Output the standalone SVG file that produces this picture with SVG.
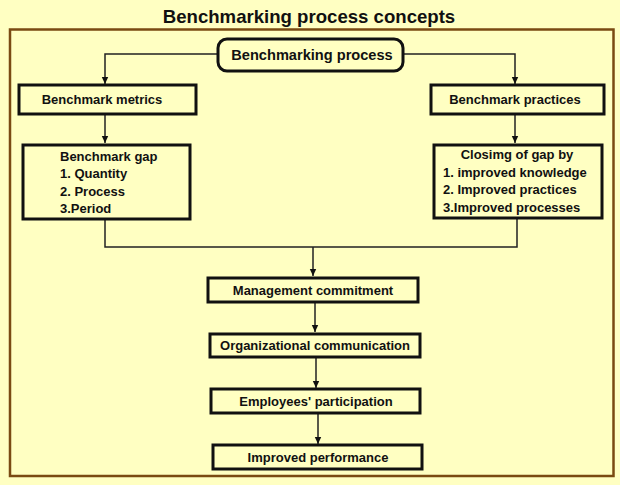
<svg xmlns="http://www.w3.org/2000/svg" width="620" height="485" viewBox="0 0 620 485">
<defs>
<marker id="ah" markerWidth="8" markerHeight="8" refX="7" refY="4" orient="auto" markerUnits="userSpaceOnUse">
<path d="M0,0.8 L7,4 L0,7.2 Z" fill="#111"/>
</marker>
<style>
.box{fill:none;stroke:#111;stroke-width:3}
.t{font-family:"Liberation Sans",Arial,sans-serif;font-weight:bold;font-size:13px;fill:#111}
.c{text-anchor:middle}
.con{fill:none;stroke:#222;stroke-width:1.5}
.arr{fill:none;stroke:#222;stroke-width:1.5;marker-end:url(#ah)}
</style>
</defs>
<rect x="0" y="0" width="620" height="485" fill="#FFFFC2"/>
<text x="309" y="23" class="t c" style="font-size:18.6px">Benchmarking process concepts</text>
<rect x="10" y="29.5" width="603.5" height="446.5" fill="none" stroke="#7A4A12" stroke-width="2.5"/>
<g id="connectors">
<path class="arr" d="M218,54 H105 V84"/>
<path class="arr" d="M403,54 H515 V84"/>
<path class="arr" d="M105,115 V143"/>
<path class="arr" d="M515,115 V143"/>
<path class="con" d="M105,220 V247 H517 V219"/>
<path class="arr" d="M313,247 V276"/>
<path class="arr" d="M315,302 V332"/>
<path class="arr" d="M316,357 V388"/>
<path class="arr" d="M318,413 V444"/>
</g>
<g id="benchmarking-process">
<rect x="218" y="39" width="185" height="32" rx="9" ry="9" class="box" fill="#FFFFC2"/>
<text x="312" y="60" class="t c" style="font-size:14.6px">Benchmarking process</text>
</g>
<g id="benchmark-metrics">
<rect x="19" y="85" width="177" height="29" class="box"/>
<text x="102" y="104" class="t c">Benchmark metrics</text>
</g>
<g id="benchmark-practices">
<rect x="431" y="85" width="173" height="29" class="box"/>
<text x="515" y="104" class="t c">Benchmark practices</text>
</g>
<g id="benchmark-gap">
<rect x="23" y="145" width="167" height="74" class="box"/>
<text x="60" y="161" class="t">Benchmark gap</text>
<text x="60" y="178" class="t">1. Quantity</text>
<text x="60" y="195.5" class="t">2. Process</text>
<text x="60" y="213" class="t">3.Period</text>
</g>
<g id="closing-gap">
<rect x="434" y="145" width="168" height="73" class="box"/>
<text x="517" y="159" class="t c">Closimg of gap by</text>
<text x="443" y="176.5" class="t">1. improved knowledge</text>
<text x="443" y="194" class="t">2. Improved practices</text>
<text x="443" y="211.5" class="t">3.Improved processes</text>
</g>
<g id="management-commitment">
<rect x="208" y="278" width="210" height="24" class="box"/>
<text x="313" y="294.5" class="t c">Management commitment</text>
</g>
<g id="organizational-communication">
<rect x="210" y="334" width="210" height="23" class="box"/>
<text x="315" y="350" class="t c">Organizational communication</text>
</g>
<g id="employees-participation">
<rect x="211" y="389" width="209" height="24" class="box"/>
<text x="316" y="405.5" class="t c">Employees' participation</text>
</g>
<g id="improved-performance">
<rect x="213" y="445" width="209" height="24" class="box"/>
<text x="318" y="461.5" class="t c">Improved performance</text>
</g>
</svg>
